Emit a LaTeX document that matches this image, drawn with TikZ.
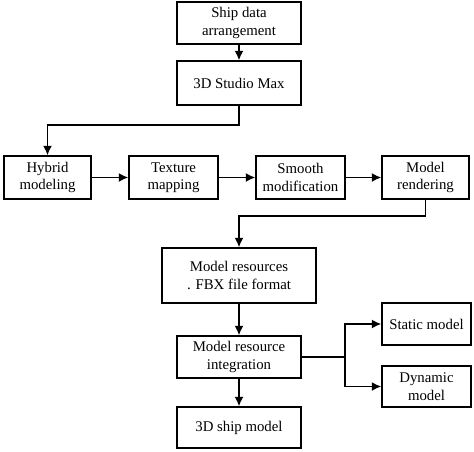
\documentclass[tikz,border=0pt]{standalone}
\usepackage{fontspec}
\setmainfont{Liberation Serif}
\usetikzlibrary{arrows.meta, positioning, calc}

\begin{document}
\begin{tikzpicture}[x=1pt, y=-1pt,
    box/.style={draw, line width=1.4pt, align=center, inner sep=0pt,
        font=\fontsize{14.8}{17.5}\selectfont},
    arr/.style={line width=1.6pt, -{Latex[length=9.5pt,width=9pt]}},
    link/.style={line width=1.6pt}]
\useasboundingbox (0,0) rectangle (474,451);

% Top chain
\node[box, minimum width=124pt, minimum height=42pt] (ship) at (239,23) {Ship data\\arrangement};
\node[box, minimum width=124pt, minimum height=44pt] (max) at (239,83) {3D Studio Max};

% Modeling row
\node[box, minimum width=87pt, minimum height=43pt] (hybrid) at (47.5,177.5) {Hybrid\\modeling};
\node[box, minimum width=89pt, minimum height=43pt] (texture) at (173.5,177.5) {Texture\\mapping};
\node[box, minimum width=89pt, minimum height=43pt] (smooth) at (300.5,177.5) {Smooth\\modification};
\node[box, minimum width=87pt, minimum height=43pt] (render) at (425.5,177.5) {Model\\rendering};

% Resources and integration
\node[box, minimum width=154pt, minimum height=55pt] (res) at (239,275.5) {Model resources\\. FBX file format};
\node[box, minimum width=124pt, minimum height=42pt] (integ) at (239,357) {Model resource\\integration};
\node[box, minimum width=124pt, minimum height=41pt] (final) at (239,427.5) {3D ship model};

% Static / dynamic
\node[box, minimum width=89pt, minimum height=42pt] (static) at (426.5,324) {Static model};
\node[box, minimum width=89pt, minimum height=41pt] (dynamic) at (426.5,386.5) {Dynamic\\model};

% Connectors
\draw[arr] (ship) -- (max);
\draw[arr] (max.south) -- ++(0,19) -| (hybrid.north);
\draw[arr] (hybrid) -- (texture);
\draw[arr] (texture) -- (smooth);
\draw[arr] (smooth) -- (render);
\draw[arr] (render.south) -- ++(0,16) -| (res.north);
\draw[arr] (res) -- (integ);
\draw[arr] (integ) -- (final);
\draw[link] (integ.east) -- ++(43,0) coordinate (split);
\draw[arr] (split) |- (static.west);
\draw[arr] (split) |- (dynamic.west);
\end{tikzpicture}
\end{document}
